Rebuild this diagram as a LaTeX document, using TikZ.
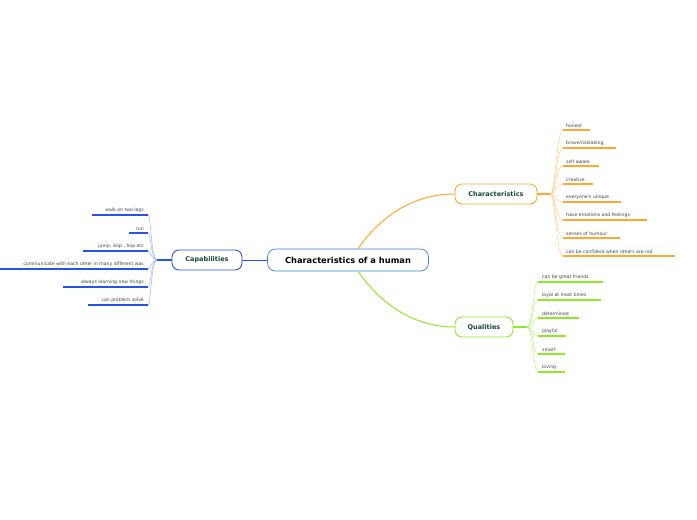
\documentclass[tikz,border=0pt]{standalone}
\usepackage{fontspec}
\setmainfont{DejaVu Sans}
\begin{document}
\begin{tikzpicture}[x=1pt,y=-1pt,
 leaf/.style={inner sep=2pt,font=\fontsize{4.6}{5}\selectfont,text=black!75},
 branch/.style={draw,rounded corners=7pt,line width=0.9pt,minimum height=20pt,font=\bfseries\fontsize{6.5}{7}\selectfont,text={rgb,255:red,20;green,70;blue,55}},
 thinc/.style={line width=0.5pt},
 ul/.style={line width=1.4pt}]
\definecolor{oc}{RGB}{255,168,45}
\definecolor{gc}{RGB}{140,235,40}
\definecolor{bc}{RGB}{35,85,230}
\useasboundingbox (0,0) rectangle (697,520);
\node[draw={rgb,255:red,60;green,130;blue,210},rounded corners=8pt,line width=0.7pt,minimum width=161pt,minimum height=22pt,font=\bfseries\fontsize{8.3}{9}\selectfont] (c) at (348,260) {Characteristics of a human};
\node[branch,draw=oc,minimum width=82pt] (ch) at (496,194) {Characteristics};
\node[branch,draw=gc,minimum width=58pt] (q) at (484,327) {Qualities};
\node[branch,draw=bc,minimum width=70pt] (cap) at (207,260) {Capabilities};
\draw[oc,line width=1pt] ([xshift=10pt]c.north) .. controls (385,210) and (420,194) .. (ch.west);
\draw[gc,line width=1pt] ([xshift=10pt]c.south) .. controls (385,310) and (420,327) .. (q.west);
\draw[bc,line width=1pt] (c.west) -- (cap.east);
\coordinate (fo) at (550,194);
\coordinate (fg) at (527,327);
\coordinate (fb) at (157,260);
\draw[oc,line width=1.2pt] (ch.east) -- (fo);
\draw[gc,line width=1.2pt] (q.east) -- (fg);
\draw[bc,line width=1.2pt] (cap.west) -- (fb);
\foreach \t/\y/\e [count=\i] in {honest/130/590, {brave/risktaking}/148/616, self aware/166/599, creative/184/593, everyone's unique/202/621, have emotions and feelings/220/647, senses of humour/238/620, can be confident when others are not/256/675}{
 \node[leaf,anchor=south west] (o\i) at (564,\y) {\t};
 \coordinate (os\i) at (563,\y); \coordinate (oe\i) at (\e,\y);
 \draw[oc!55,thinc] (fo) .. controls (556,194) and (556,\y) .. (os\i);
 \draw[oc,ul] (os\i) -- (oe\i);
}
\foreach \t/\y/\e [count=\i] in {can be great friends/282/603, loyal at most times/300/601, determined/318/579, playful/336/566, smart/354/565, loving/372/565}{
 \node[leaf,anchor=south west] (g\i) at (540,\y) {\t};
 \coordinate (gs\i) at (538,\y); \coordinate (ge\i) at (\e,\y);
 \draw[gc!60,thinc] (fg) .. controls (533,327) and (533,\y) .. (gs\i);
 \draw[gc,ul] (gs\i) -- (ge\i);
}
\foreach \t/\y/\e [count=\i] in {walk on two legs/215/92, run/233/129, {jump, skip , hop etc}/251/83, {communicate with each other  in many different was}/269/-5, always learning new things/287/63, can problem solve/305/88}{
 \node[leaf,anchor=south east] (b\i) at (146,\y) {\t};
 \coordinate (bs\i) at (148,\y); \coordinate (be\i) at (\e,\y);
 \draw[bc!45,thinc] (fb) .. controls (151,260) and (151,\y) .. (bs\i);
 \draw[bc,ul] (bs\i) -- (be\i);
}
\end{tikzpicture}
\end{document}
